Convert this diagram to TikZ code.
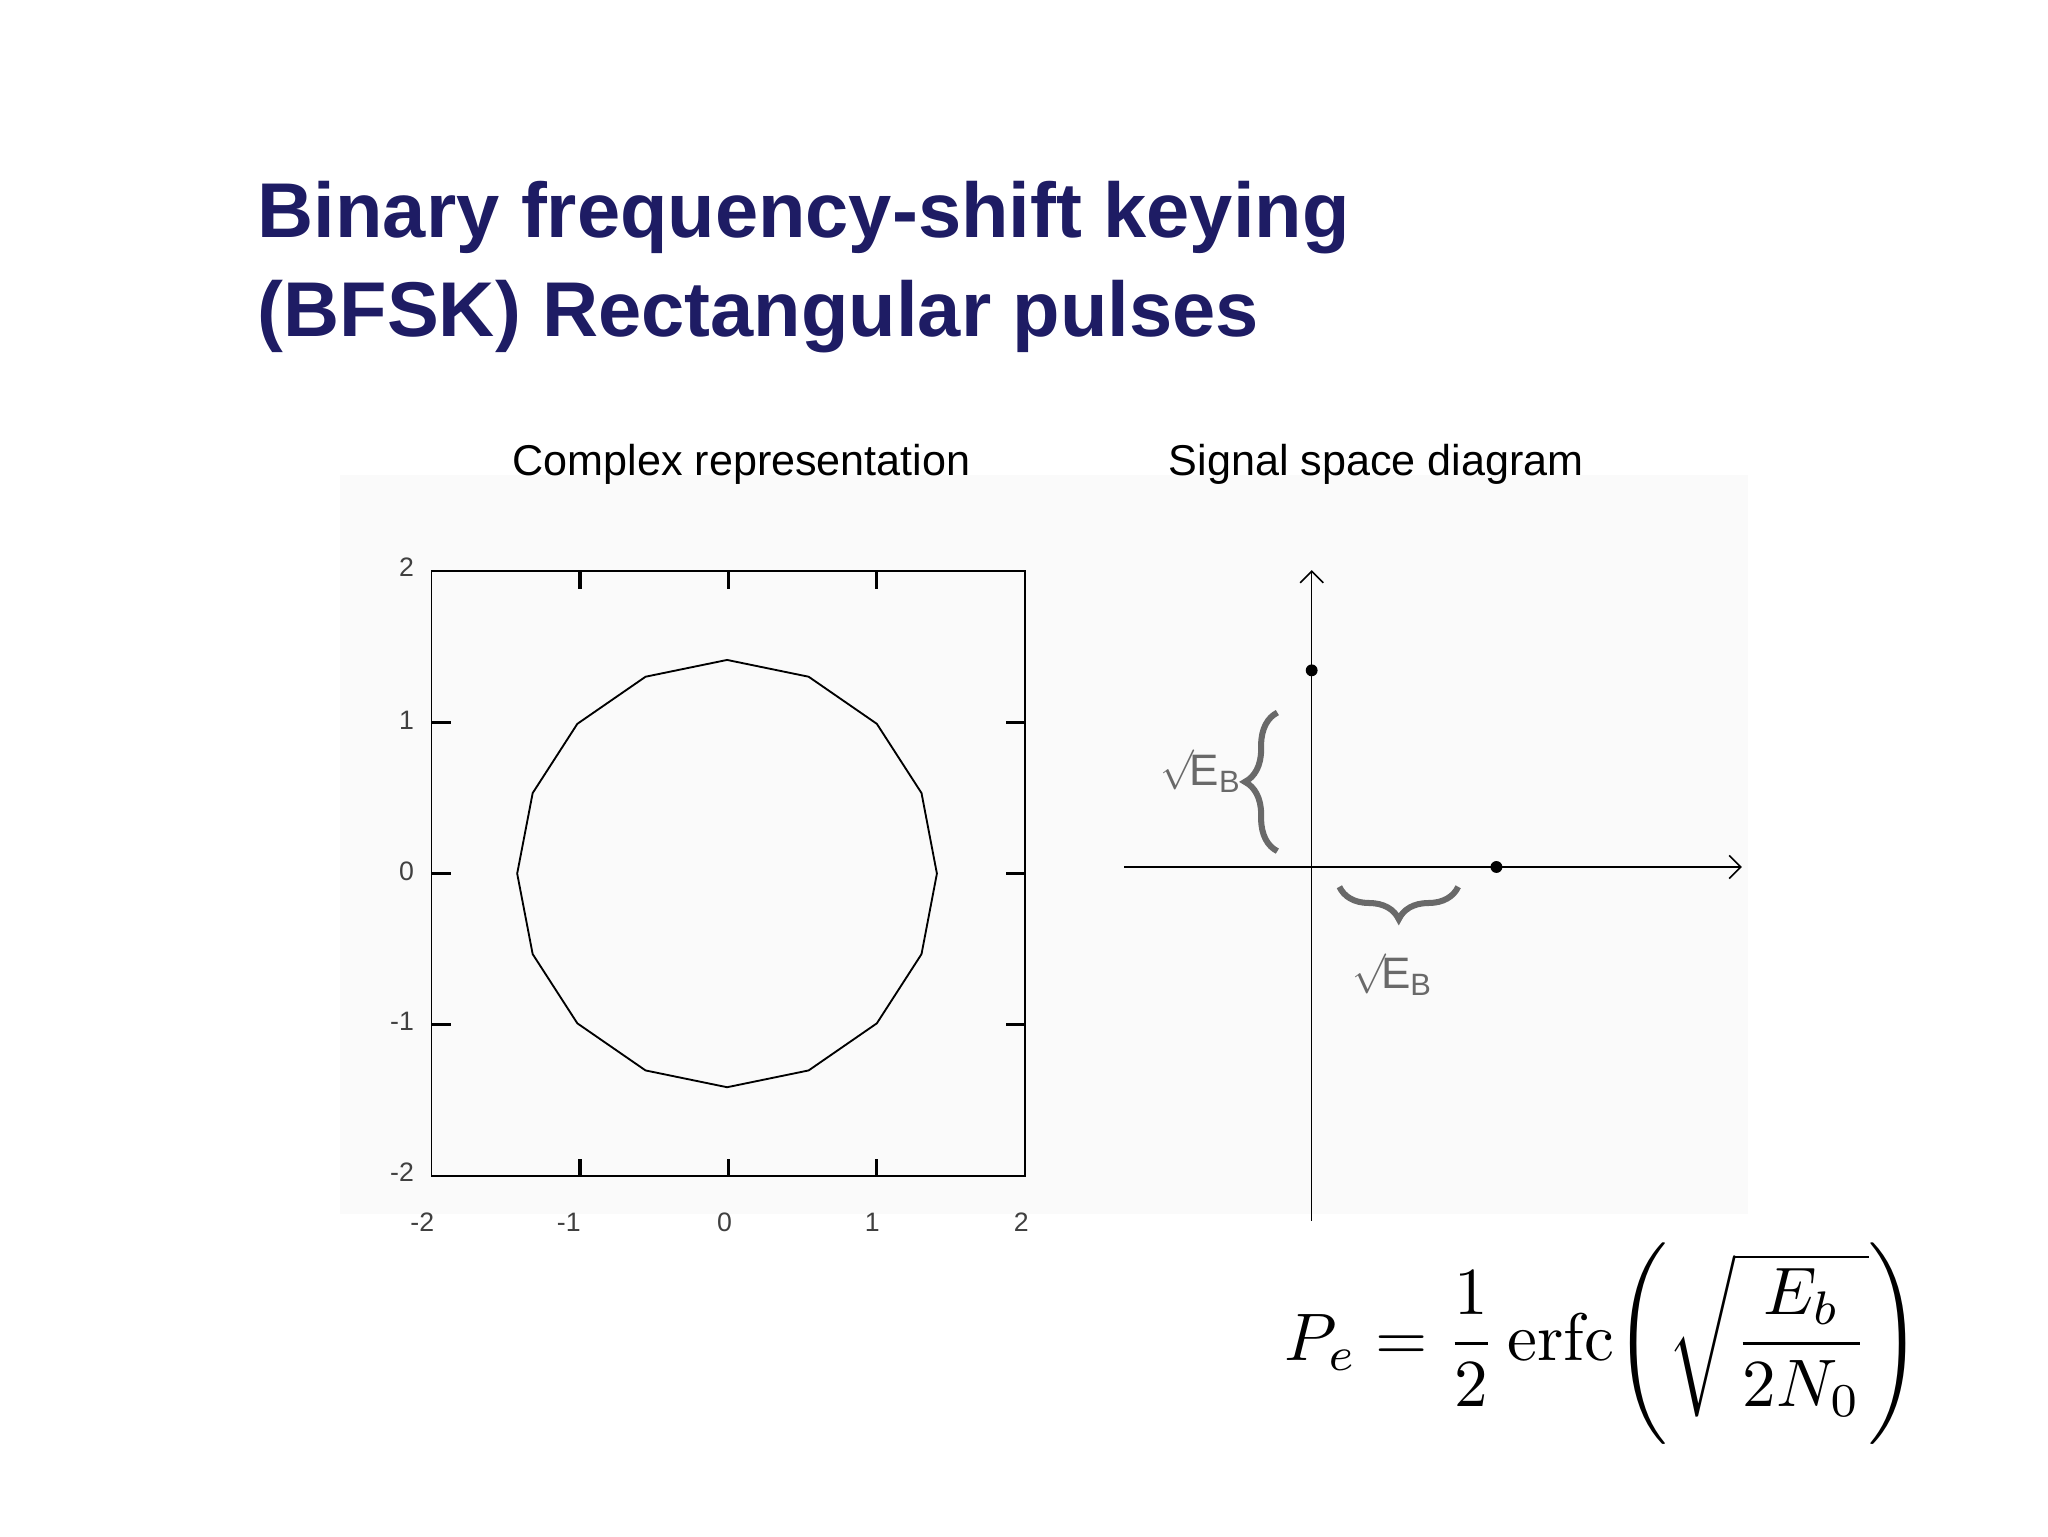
\documentclass[tikz,border=0pt]{standalone}
\usepackage{fontspec}
\setmainfont{Liberation Sans}
\newfontfamily\lmr{Latin Modern Roman}
\usetikzlibrary{decorations.pathreplacing,arrows.meta}
\definecolor{navy}{RGB}{30,28,100}
\definecolor{panel}{RGB}{250,250,250}
\definecolor{brc}{RGB}{105,105,105}
\begin{document}
\begin{tikzpicture}[x=0.02cm,y=-0.02cm,
  ttl/.style={anchor=base west,font=\fontsize{33.5}{38}\selectfont\bfseries,text=navy,inner sep=0},
  hdr/.style={font=\fontsize{18.6}{22}\selectfont,inner sep=0},
  tlab/.style={font=\fontsize{11.5}{14}\selectfont,text=black!75,inner sep=0},
  tk/.style={line width=1.4pt},
  br/.style={decorate,decoration={brace,amplitude=14pt},line width=2.6pt,draw=brc},
  blab/.style={font=\fontsize{19}{22}\selectfont,text=brc,inner sep=0}]
\useasboundingbox[fill=white] (0,0) rectangle (1552,1164);
\fill[panel] (258,360) rectangle (1325,920);
\node[ttl] (t1) at (195,180) {Binary frequency-shift keying};
\node[ttl] (t2) at (195,255) {(BFSK) Rectangular pulses};
\node[hdr] (h1) at (562,352) {Complex representation};
\node[hdr] (h2) at (1043,352) {Signal space diagram};
% plot box
\draw[line width=0.8pt] (327,433) rectangle (777,891);
\foreach \x in {439.5,552,664.5}{
  \draw[tk] (\x,433) -- (\x,446);
  \draw[tk] (\x,891) -- (\x,878);}
\foreach \y in {547.5,662,776.5}{
  \draw[tk] (327,\y) -- (342,\y);
  \draw[tk] (777,\y) -- (762,\y);}
\foreach \v/\y in {2/430,1/546,0/660,-1/774,-2/888}
  \node[tlab,anchor=east] (yl\v) at (314,\y) {\v};
\foreach \v/\x in {-2/320,-1/431,0/549,1/661,2/774}
  \node[tlab] (xl\v) at (\x,926) {\v};
\draw[line width=0.8pt] (551,662) +(0:159) \foreach \a in {22.5,45,...,337.5}{ -- +(\a:{112.5*1.414*cos(\a)*cos(\a)+114.5*1.414*sin(\a)*sin(\a)}) } -- cycle;
% signal space
\coordinate (o) at (994,657);
\coordinate (vt) at (994,432);
\coordinate (vb) at (994,925);
\coordinate (hl) at (852,657);
\coordinate (hr) at (1320,657);
\draw[-{Straight Barb[length=5pt]},line width=0.7pt] (vb) -- (vt);
\draw[-{Straight Barb[length=5pt]},line width=0.7pt] (hl) -- (hr);
\fill (994,508) circle (4.5) node (p1) {};
\fill (1134,657) circle (4.5) node (p2) {};
\draw[br] (968,645) -- (968,540);
\node[blab] (l1) at (910,584) {$\sqrt{\vphantom{E}}$\hspace{-2pt}E\textsubscript{B}};
\draw[br] (1105,672) -- (1015,672);
\node[blab] (l2) at (1055,738) {$\sqrt{\vphantom{E}}$\hspace{-2pt}E\textsubscript{B}};
% formula
\node[scale=2.9,inner sep=0] (f) at (1215,1018) {$\displaystyle P_e=\frac{1}{2}\,\hbox{\lmr erfc}\!\left(\sqrt{\frac{E_b}{2N_0}}\right)$};
\end{tikzpicture}
\end{document}
